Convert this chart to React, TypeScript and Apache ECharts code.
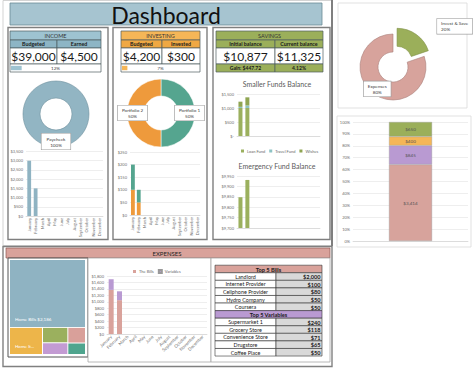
import React, { useEffect, useRef } from 'react';
import * as echarts from 'echarts';

const months = ['January', 'February', 'March', 'April', 'May', 'June', 'July', 'August', 'September', 'October', 'November', 'December'];

// Header cards
const incomeBudgeted = 39000;
const incomeEarned = 4500;
const incomeProgress = [12];
const investBudgeted = 4200;
const investInvested = 300;
const investProgress = [7];
const savingsInitial = 10877;
const savingsCurrent = 11325;
const savingsGain = 447.72;
const savingsGainPct = 4.12;

// Income
const incomeSources = ['Paycheck'];
const incomeSourceValues = [4500];
const incomeByMonth = [3000, 1500];

// Investing
const portfolioNames = ['Portfolio 1', 'Portfolio 2'];
const portfolioValues = [150, 150];
const portfolio1ByMonth = [100, 50];
const portfolio2ByMonth = [100, 50];

// Savings
const fundNames = ['Loan Fund', 'Travel Fund', 'Wishes'];
const loanFundByMonth = [1000, 1000];
const travelFundByMonth = [40, 90];
const wishesByMonth = [186, 291];
const emergencyByMonth = [9848, 9931];

// Right side
const splitNames = ['Invest & Save', 'Expenses'];
const splitValues = [1050, 4259];
const allocationNames = ['Bills', 'Variables', 'Investing', 'Savings'];
const allocationValues = [3414, 845, 400, 650];

// Expenses
const expenseCategories = ['Home Bills', 'Home Items', 'Groceries Variable', 'Food', 'Subscriptions', 'Leisure'];
const expenseCategoryValues = [2186, 379, 165, 117, 126, 86];
const billsByMonth = [1370, 1050];
const variablesByMonth = [330, 275];

const topBillNames = ['Landlord', 'Internet Provider', 'Cellphone Provider', 'Hydro Company', 'Coursera'];
const topBillValues = [2000, 100, 80, 50, 50];
const topVariableNames = ['Supermarket 1', 'Grocery Store', 'Convenience Store', 'Drugstore', 'Coffee Place'];
const topVariableValues = [240, 118, 71, 65, 50];

const F = 'Lato, "Liberation Sans", "DejaVu Sans", sans-serif';
const fmt = (v: number) => '$' + Math.round(v).toLocaleString('en-US');

const C = {
  blue: '#9EC3D1',
  blueDark: '#8DB5C5',
  orange: '#F5B657',
  orangeDark: '#EFA843',
  olive: '#9BAF5A',
  teal: '#55A58F',
  port2: '#EE9A3C',
  pink: '#D9A29B',
  purple: '#B99AD2',
  grid: '#E3E3E3',
  axisTxt: '#6E6E6E',
};

function rect(x: number, y: number, w: number, h: number, fill: string, stroke?: string, lw = 0.8) {
  return {
    type: 'rect',
    silent: true,
    shape: { x, y, width: w, height: h },
    style: { fill, stroke: stroke || 'none', lineWidth: stroke ? lw : 0 },
  };
}
function text(x: number, y: number, str: string, size: number, opts: any = {}) {
  return {
    type: 'text',
    silent: true,
    x,
    y,
    z: 10,
    style: {
      text: str,
      fontSize: size,
      fontFamily: F,
      fill: opts.fill || '#1a1a1a',
      fontWeight: opts.bold ? 'bold' : 'normal',
      align: opts.align || 'center',
      verticalAlign: 'middle',
    },
  };
}

function card(x: number, split: number, right: number, color: string, color2: string, title: string,
  l1: string, l2: string, v1: string, v2: string, bottomColored: boolean, b1: string, b2: string, progressText: string) {
  const els: any[] = [];
  const w = right - x;
  const stroke = '#4d5b60';
  els.push(rect(x, 31, w, 9, color, stroke, 0.7));
  els.push(text(x + w / 2, 35.8, title, 5.5, { fill: '#333' }));
  els.push(rect(x, 40, split - x, 8, color2, stroke, 0.7));
  els.push(rect(split, 40, right - split, 8, color2, stroke, 0.7));
  els.push(text((x + split) / 2, 44.2, l1, 5.3, { bold: true }));
  els.push(text((split + right) / 2, 44.2, l2, 5.3, { bold: true }));
  els.push(rect(x, 48, split - x, 16, '#fff', stroke, 0.7));
  els.push(rect(split, 48, right - split, 16, '#fff', stroke, 0.7));
  els.push(text((x + split) / 2, 56.5, v1, 12));
  els.push(text((split + right) / 2, 56.5, v2, 12));
  if (bottomColored) {
    els.push(rect(x, 64, split - x, 8, color, stroke, 0.7));
    els.push(rect(split, 64, right - split, 8, color, stroke, 0.7));
    els.push(text((x + split) / 2, 68.2, b1, 5, { bold: true }));
    els.push(text((split + right) / 2, 68.2, b2, 5, { bold: true }));
  } else {
    els.push(rect(x, 64, w, 8, '#fff', stroke, 0.7));
    els.push(text(x + w / 2, 68.2, progressText, 4.6, { fill: '#444' }));
  }
  return els;
}

function tables() {
  const els: any[] = [];
  const x0 = 215, xs = 276, x1 = 322;
  const y0 = 265.2, h = 7.57;
  const rows: any[] = [];
  rows.push({ header: 'Top 5 Bills', color: C.pink });
  topBillNames.forEach((n, i) => rows.push({ name: n, value: topBillValues[i] }));
  rows.push({ header: 'Top 5 Variables', color: C.purple });
  topVariableNames.forEach((n, i) => rows.push({ name: n, value: topVariableValues[i] }));
  rows.forEach((r, i) => {
    const y = y0 + i * h;
    if (r.header) {
      els.push(rect(x0, y, x1 - x0, h, r.color, '#333', 0.6));
      els.push(text((x0 + x1) / 2, y + h / 2 + 0.3, r.header, 5.6, { bold: true }));
    } else {
      els.push(rect(x0, y, xs - x0, h, '#fff', '#333', 0.6));
      els.push(rect(xs, y, x1 - xs, h, '#D9D9D9', '#333', 0.6));
      els.push(text((x0 + xs) / 2, y + h / 2 + 0.3, r.name, 5.4));
      els.push(text(x1 - 1.5, y + h / 2 + 0.3, fmt(r.value), 5.6, { bold: true, align: 'right' }));
    }
  });
  return els;
}

const axisLabel = { fontSize: 4, color: C.axisTxt, fontFamily: F };
const splitLine = { show: true, lineStyle: { color: C.grid, width: 0.6 } };

function catAxis(gridIndex: number, showLabels: boolean, rotate = 90) {
  return {
    type: 'category',
    gridIndex,
    data: months,
    axisTick: { show: false },
    axisLine: { lineStyle: { color: '#D0D0D0', width: 0.6 } },
    axisLabel: { show: showLabels, interval: 0, rotate, margin: 2, ...axisLabel, fontSize: rotate === 45 ? 4.4 : 4 },
  };
}
function valAxis(gridIndex: number, min: number, max: number, interval: number, formatter: (v: number) => string) {
  return {
    type: 'value',
    gridIndex,
    min,
    max,
    interval,
    axisLine: { show: false },
    axisTick: { show: false },
    splitLine,
    axisLabel: { ...axisLabel, margin: 3, formatter },
  };
}

const pieLabel = {
  show: true,
  position: 'inside',
  formatter: (p: any) => p.name + '\n' + Math.round(p.percent) + '%',
  fontSize: 4.6,
  lineHeight: 6,
  color: '#404040',
  fontFamily: F,
  backgroundColor: '#fff',
  borderColor: '#9a9a9a',
  borderWidth: 0.6,
  padding: [1.5, 4],
};

const legendText = { fontSize: 4, color: '#666', fontFamily: F, padding: [0, 0, 0, -2] };

export default function App() {
  const ref = useRef<HTMLDivElement>(null);
  useEffect(() => {
    if (!ref.current) return;
    const chart = echarts.init(ref.current, undefined, { renderer: 'svg' });
    const allocTotal = allocationValues.reduce((a, b) => a + b, 0);

    const graphic: any[] = [];
    // frames
    graphic.push(rect(3, 0.5, 329, 245, '#fff', '#C8C8C8', 0.8));
    graphic.push(rect(331, 0, 2, 246, '#7F7F7F'));
    graphic.push(rect(10, 3, 312, 22, '#A6C4D0', '#6B8A96', 0.8));
    graphic.push(text(166, 15, 'Dashboard', 23, { fill: '#111' }));
    graphic.push(rect(8, 27.5, 100, 212, '#fff', '#7F7F7F', 1.4));
    graphic.push(rect(113, 27.5, 94, 212, '#fff', '#7F7F7F', 1.4));
    graphic.push(rect(213, 27.5, 117, 212, '#fff', '#7F7F7F', 1.4));
    graphic.push(...card(10, 57, 101, C.blue, C.blueDark, 'INCOME', 'Budgeted', 'Earned',
      fmt(incomeBudgeted), fmt(incomeEarned), false, '', '', incomeProgress[0] + '%'));
    graphic.push(...card(121, 162, 200, C.orange, C.orangeDark, 'INVESTING', 'Budgeted', 'Invested',
      fmt(investBudgeted), fmt(investInvested), false, '', '', investProgress[0] + '%'));
    graphic.push(...card(216, 275, 323, C.olive, C.olive, 'SAVINGS', 'Initial balance', 'Current balance',
      fmt(savingsInitial), fmt(savingsCurrent), true, 'Gain: $' + savingsGain.toFixed(2), savingsGainPct.toFixed(2) + '%', ''));
    graphic.push(text(277, 83.5, 'Smaller Funds Balance', 7, { fill: '#595959' }));
    graphic.push(text(277, 166, 'Emergency Fund Balance', 7, { fill: '#595959' }));
    // right panels
    graphic.push(rect(338, 3, 129, 105, '#fff', '#D9D9D9', 0.8));
    graphic.push(rect(337, 116, 134, 131, '#fff', '#D9D9D9', 0.8));
    // expenses
    graphic.push(rect(3, 246.5, 329, 120, '#fff', '#808080', 1.4));
    graphic.push(rect(6, 248, 324, 10, C.pink, '#8C5A55', 0.7));
    graphic.push(text(167, 253.3, 'EXPENSES', 6, { fill: '#222' }));
    graphic.push(rect(8, 258, 80, 99, '#fff', '#555', 1));
    graphic.push(rect(88, 258, 123, 104, '#fff', '#A6A6A6', 0.8));
    graphic.push(rect(211, 258, 119, 104, '#fff', '#A6A6A6', 0.8));
    graphic.push(...tables());

    const option: any = {
      animation: false,
      textStyle: { fontFamily: F },
      graphic,
      legend: [
        {
          data: fundNames,
          left: 236,
          top: 144,
          itemWidth: 3,
          itemHeight: 3,
          itemGap: 4,
          icon: 'rect',
          textStyle: legendText,
          selectedMode: false,
        },
        {
          data: ['The Bills', 'Variables'],
          left: 128,
          top: 264,
          itemWidth: 3,
          itemHeight: 3,
          itemGap: 4,
          icon: 'rect',
          textStyle: legendText,
          selectedMode: false,
        },
      ],
      grid: [
        { left: 26, top: 151.5, width: 77, height: 64.5 },
        { left: 130, top: 152, width: 70, height: 63 },
        { left: 237, top: 94, width: 83, height: 42 },
        { left: 237, top: 176, width: 83, height: 52 },
        { left: 353, top: 122, width: 115, height: 119 },
        { left: 107, top: 276, width: 100, height: 58 },
        { left: 11, top: 65.8, width: 89, height: 4.4 },
        { left: 122, top: 65.8, width: 77, height: 4.4 },
      ],
      xAxis: [
        catAxis(0, true),
        catAxis(1, true),
        catAxis(2, false),
        catAxis(3, false),
        { type: 'category', gridIndex: 4, data: ['Total'], axisTick: { show: false }, axisLabel: { show: false }, axisLine: { lineStyle: { color: '#D0D0D0', width: 0.6 } } },
        catAxis(5, true, 45),
        { type: 'value', gridIndex: 6, min: 0, max: 100, show: false },
        { type: 'value', gridIndex: 7, min: 0, max: 100, show: false },
      ],
      yAxis: [
        valAxis(0, 0, 3500, 500, fmt),
        valAxis(1, 0, 250, 50, fmt),
        valAxis(2, 0, 1500, 500, (v) => (v === 0 ? '$-' : fmt(v))),
        valAxis(3, 9700, 9950, 50, fmt),
        valAxis(4, 0, allocTotal, allocTotal / 10, (v) => Math.round((v / allocTotal) * 100) + '%'),
        valAxis(5, 0, 1800, 200, fmt),
        { type: 'category', gridIndex: 6, data: ['p'], show: false },
        { type: 'category', gridIndex: 7, data: ['p'], show: false },
      ],
      series: [
        // donuts
        {
          type: 'pie',
          center: [56, 114],
          radius: [16, 33],
          startAngle: 90,
          avoidLabelOverlap: false,
          label: { ...pieLabel, padding: [2, 5] },
          labelLine: { show: false },
          itemStyle: { borderColor: '#6E909E', borderWidth: 0.6 },
          data: incomeSources.map((n, i) => ({ name: n, value: incomeSourceValues[i], itemStyle: { color: '#92B5C3' } })),
        },
        {
          type: 'pie',
          center: [161, 113],
          radius: [17, 34],
          startAngle: 90,
          avoidLabelOverlap: false,
          label: pieLabel,
          labelLine: { show: false },
          itemStyle: { borderColor: '#fff', borderWidth: 0.5 },
          data: portfolioNames.map((n, i) => ({ name: n, value: portfolioValues[i], itemStyle: { color: [C.teal, C.port2][i] } })),
        },
        {
          type: 'pie',
          center: [393, 67],
          radius: [15, 33],
          startAngle: 90,
          avoidLabelOverlap: false,
          selectedMode: 'single',
          selectedOffset: 7,
          label: pieLabel,
          labelLine: { show: false, length: 10, length2: 10 },
          itemStyle: { borderColor: '#9C7C76', borderWidth: 0.6 },
          data: splitNames.map((n, i) => ({
            name: n,
            value: splitValues[i],
            selected: i === 0,
            itemStyle: { color: ['#9BAF5A', '#D7A39C'][i], borderColor: ['#7E8F45', '#A9807A'][i] },
            label: i === 0 ? { position: 'outside' } : { position: 'inside' },
          })),
        },
        // income bars
        { type: 'bar', name: 'Income', xAxisIndex: 0, yAxisIndex: 0, barWidth: 3.8, data: incomeByMonth, itemStyle: { color: '#8FB3C2' } },
        // investing bars
        { type: 'bar', name: 'P2 monthly', xAxisIndex: 1, yAxisIndex: 1, stack: 'inv', barWidth: 3.8, data: portfolio2ByMonth, itemStyle: { color: C.port2 } },
        { type: 'bar', name: 'P1 monthly', xAxisIndex: 1, yAxisIndex: 1, stack: 'inv', barWidth: 3.8, data: portfolio1ByMonth, itemStyle: { color: C.teal } },
        // smaller funds
        { type: 'bar', name: fundNames[0], xAxisIndex: 2, yAxisIndex: 2, stack: 'sf', barWidth: 4, data: loanFundByMonth, itemStyle: { color: '#9BB05E' } },
        { type: 'bar', name: fundNames[1], xAxisIndex: 2, yAxisIndex: 2, stack: 'sf', barWidth: 4, data: travelFundByMonth, itemStyle: { color: '#8EC3C4' } },
        { type: 'bar', name: fundNames[2], xAxisIndex: 2, yAxisIndex: 2, stack: 'sf', barWidth: 4, data: wishesByMonth, itemStyle: { color: '#8FA552' } },
        // emergency
        { type: 'bar', name: 'Emergency', xAxisIndex: 3, yAxisIndex: 3, barWidth: 4, data: emergencyByMonth, itemStyle: { color: '#9BB05E' } },
        // allocation stacked
        ...allocationNames.map((n, i) => ({
          type: 'bar',
          name: n,
          xAxisIndex: 4,
          yAxisIndex: 4,
          stack: 'alloc',
          barWidth: 43,
          data: [allocationValues[i]],
          itemStyle: { color: ['#D7A39C', '#B99AD2', '#F5B657', '#9BAF5A'][i], borderColor: '#999', borderWidth: 0.4 },
          label: { show: true, position: 'inside', fontSize: 4.6, color: '#555', fontFamily: F, formatter: (p: any) => fmt(p.value) },
        })),
        // expenses bars
        { type: 'bar', name: 'The Bills', xAxisIndex: 5, yAxisIndex: 5, stack: 'exp', barWidth: 5, data: billsByMonth, itemStyle: { color: C.pink } },
        { type: 'bar', name: 'Variables', xAxisIndex: 5, yAxisIndex: 5, stack: 'exp', barWidth: 5, data: variablesByMonth, itemStyle: { color: C.purple } },
        // progress bars
        { type: 'bar', name: 'incProg', xAxisIndex: 6, yAxisIndex: 6, barWidth: 4.4, data: incomeProgress, itemStyle: { color: C.blue } },
        { type: 'bar', name: 'invProg', xAxisIndex: 7, yAxisIndex: 7, barWidth: 4.4, data: investProgress, itemStyle: { color: C.orange } },
        // treemap
        {
          type: 'treemap',
          left: 10,
          top: 260,
          width: 75,
          height: 94,
          roam: false,
          nodeClick: false,
          breadcrumb: { show: false },
          levels: [{ itemStyle: { gapWidth: 1, borderWidth: 0, borderColor: '#fff' } }],
          label: {
            show: true,
            position: 'insideBottomLeft',
            fontSize: 4.5,
            lineHeight: 5.5,
            color: '#fff',
            fontFamily: F,
            overflow: 'truncate',
            formatter: (p: any) => p.name + ' ' + fmt(p.value),
          },
          upperLabel: { show: false },
          data: expenseCategories.map((n, i) => ({
            name: n,
            value: expenseCategoryValues[i],
            itemStyle: { color: ['#8FB3C2', '#EDB54A', '#9BB05E', '#D9A09A', '#C39BD3', '#4FA58E'][i] },
          })),
        },
      ],
    };
    chart.setOption(option);
    return () => chart.dispose();
  }, []);
  return <div ref={ref} style={{ position: 'fixed', left: 0, top: 0, width: 474, height: 370, background: '#fff' }} />;
}
